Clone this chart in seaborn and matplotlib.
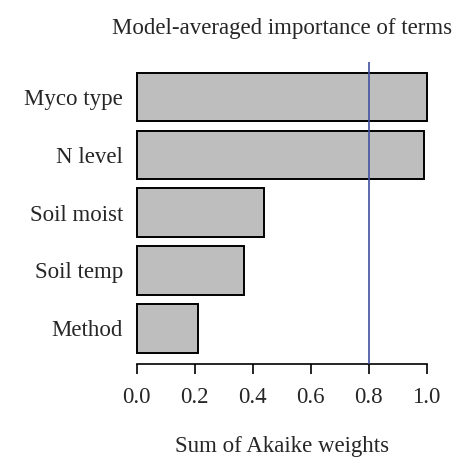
import matplotlib
matplotlib.use("Agg")
import matplotlib.pyplot as plt
import seaborn as sns
import pandas as pd

terms = ["Myco type", "N level", "Soil moist", "Soil temp", "Method"]
weights = [1.00, 0.99, 0.44, 0.37, 0.21]
threshold = 0.8
xticks = [0.0, 0.2, 0.4, 0.6, 0.8, 1.0]
xtick_labels = ["0.0", "0.2", "0.4", "0.6", "0.8", "1.0"]

df = pd.DataFrame({"term": terms, "weight": weights})

sns.set_style("white")
plt.rcParams["font.family"] = ["Liberation Serif", "DejaVu Serif"]

fig = plt.figure(figsize=(4.74, 4.75), dpi=100)
W, H = 474, 475
left_px, right_px = 125.1, 438.3
top_px, bot_px = 61.5, 363.7
ax = fig.add_axes([left_px / W, 1 - bot_px / H, (right_px - left_px) / W, (bot_px - top_px) / H])

sns.barplot(data=df, x="weight", y="term", orient="h", order=terms, ax=ax,
            color="#bebebe", saturation=1, width=1 / 1.2,
            edgecolor="black", linewidth=1.4)
for p in ax.patches:
    p.set_clip_on(False)

ax.axvline(threshold, color="#4050a0", linewidth=1.2, zorder=3)

ax.set_xlim(-0.04, 1.04)
ax.set_ylim(4.61, -0.61)

for s in ["top", "right", "left"]:
    ax.spines[s].set_visible(False)
ax.spines["bottom"].set_bounds(0, 1)
ax.spines["bottom"].set_color("black")
ax.spines["bottom"].set_linewidth(1.2)

ax.set_xticks(xticks)
ax.set_xticklabels(xtick_labels, fontsize=16.5)
ax.tick_params(axis="x", length=7.5, width=1.2, color="black", pad=9.5, bottom=True)
ax.tick_params(axis="y", length=0, pad=1.5, labelsize=16.5)

ax.set_xlabel("Sum of Akaike weights", fontsize=16.5, labelpad=20)
ax.set_ylabel("")
ax.set_title("Model-averaged importance of terms", fontsize=16.5, pad=20)

fig.savefig("out.png", dpi=100)
